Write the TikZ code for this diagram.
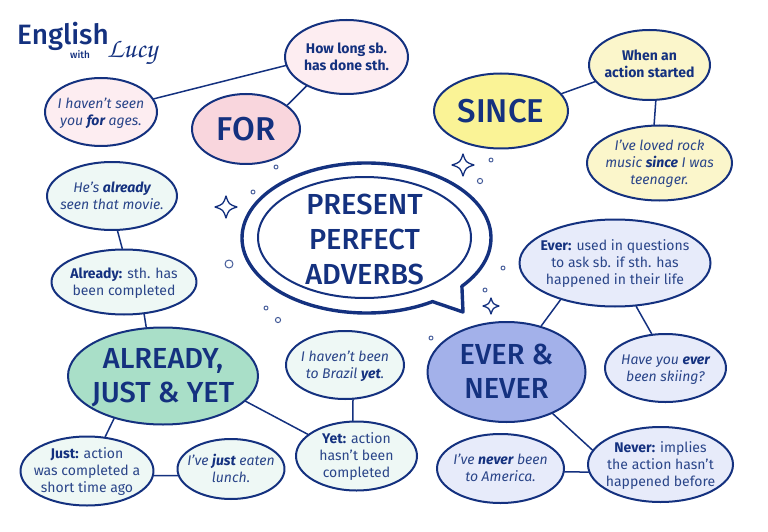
\documentclass[tikz,border=0pt]{standalone}
\usepackage{fontspec}
\setmainfont{Fira Sans}
\newfontfamily\medfont{Fira Sans Medium}
\usetikzlibrary{shapes.geometric}
\definecolor{navy}{HTML}{14317F}
\definecolor{bodyblue}{HTML}{2A4589}
\definecolor{pinkpale}{HTML}{FDEDF1}
\definecolor{pinkmain}{HTML}{F9D6DD}
\definecolor{yellowpale}{HTML}{FBF6CB}
\definecolor{yellowmain}{HTML}{FAF396}
\definecolor{greenpale}{HTML}{EEF8F5}
\definecolor{greenmain}{HTML}{A9DFC8}
\definecolor{bluepale}{HTML}{E7EBFA}
\definecolor{bluemain}{HTML}{A3B1EA}
\newcommand{\ovaltext}[1]{\makebox[0pt]{\raisebox{-.37em}[0pt][0pt]{\begin{tabular}[c]{@{}c@{}}#1\end{tabular}}}}
\newcommand{\headtext}[1]{\makebox[0pt]{\raisebox{-.3em}[0pt][0pt]{\begin{tabular}[c]{@{}c@{}}#1\end{tabular}}}}
\newcommand{\kw}[1]{\textbf{\textcolor{navy}{#1}}}
\newcommand{\sparkle}[3]{\draw[navy,line width=1.3pt] (#1-#3,#2) .. controls (#1-#3/4,#2-#3/4) .. (#1,#2-#3) .. controls (#1+#3/4,#2-#3/4) .. (#1+#3,#2) .. controls (#1+#3/4,#2+#3/4) .. (#1,#2+#3) .. controls (#1-#3/4,#2+#3/4) .. cycle;}
\tikzset{
  oval/.style={ellipse,draw=navy,line width=2pt,inner sep=0pt,text=bodyblue,font=\fontsize{14}{17}\selectfont},
  headoval/.style={oval,text=navy,font=\fontsize{29}{34.5}\medfont},
  link/.style={draw=navy,line width=1.5pt}
}
\begin{document}
\begin{tikzpicture}[x=1pt,y=-1pt,line join=round,line cap=round]
\useasboundingbox (0,0) rectangle (768,532);
\node[oval,fill=pinkpale,minimum width=123pt,minimum height=74pt] (forrule) at (346.5,57) {\ovaltext{\kw{How long sb.}\\\kw{has done sth.}}};
\node[oval,fill=pinkpale,minimum width=112pt,minimum height=68pt] (forcase) at (101,112) {\ovaltext{\textit{I haven't seen}\\\textit{you \kw{for} ages.}}};
\node[headoval,fill=pinkmain,minimum width=108pt,minimum height=70pt,font=\fontsize{33}{38}\medfont] (for) at (246,129) {\headtext{FOR}};
\node[headoval,fill=yellowmain,minimum width=134pt,minimum height=75pt,font=\fontsize{33}{38}\medfont] (since) at (501,111) {\headtext{SINCE}};
\node[oval,fill=yellowpale,minimum width=121pt,minimum height=70pt] (sincerule) at (649.5,65) {\headtext{\kw{When an}\\\kw{action started}}};
\node[oval,fill=yellowpale,minimum width=145pt,minimum height=75pt] (sincecase) at (659.5,163) {\ovaltext{\textit{I've loved rock}\\\textit{music \kw{since} I was}\\\textit{teenager.}}};
\node[oval,fill=greenpale,minimum width=130pt,minimum height=68pt] (alreadycase) at (112,196) {\ovaltext{\textit{He's \kw{already}}\\\textit{seen that movie.}}};
\node[oval,fill=greenpale,minimum width=145pt,minimum height=65pt] (alreadyrule) at (124,282) {\ovaltext{\kw{Already:} sth. has\\been completed}};
\node[headoval,fill=greenmain,minimum width=190pt,minimum height=97pt] (already) at (163,376) {\headtext{ALREADY,\\JUST \& YET}};
\node[oval,fill=greenpale,minimum width=118pt,minimum height=68pt] (yetcase) at (345,365) {\ovaltext{\textit{I haven't been}\\\textit{to Brazil \kw{yet}.}}};
\node[oval,fill=greenpale,minimum width=121pt,minimum height=69pt] (yetrule) at (356.5,456) {\ovaltext{\kw{Yet:} action\\hasn't been\\completed}};
\node[oval,fill=greenpale,minimum width=133pt,minimum height=69pt] (justrule) at (87,471) {\ovaltext{\kw{Just:} action\\was completed a\\short time ago}};
\node[oval,fill=greenpale,minimum width=107pt,minimum height=60pt] (justcase) at (231,469) {\ovaltext{\textit{I've \kw{just} eaten}\\\textit{lunch.}}};
\node[oval,fill=bluepale,minimum width=191pt,minimum height=87pt] (everrule) at (615,263) {\ovaltext{\kw{Ever:} used in questions\\to ask sb. if sth. has\\happened in their life}};
\node[oval,fill=bluepale,minimum width=121pt,minimum height=68pt] (evercase) at (665.5,368) {\ovaltext{\textit{Have you \kw{ever}}\\\textit{been skiing?}}};
\node[headoval,fill=bluemain,minimum width=158pt,minimum height=100pt] (ever) at (506.5,372) {\headtext{EVER \&\\NEVER}};
\node[oval,fill=bluepale,minimum width=145pt,minimum height=75pt] (neverrule) at (660.5,464.5) {\ovaltext{\kw{Never:} implies\\the action hasn't\\happened before}};
\node[oval,fill=bluepale,minimum width=127pt,minimum height=69pt] (nevercase) at (500.5,468.5) {\ovaltext{\textit{I've \kw{never} been}\\\textit{to America.}}};
\draw[link] (for.30) -- (forrule.216);
\draw[link] (forrule.188) -- (forcase.14);
\draw[link] (since.16) -- (sincerule.197);
\draw[link] (sincerule.-80) -- (sincecase.98);
\draw[link] (alreadycase.-81) -- (alreadyrule.93);
\draw[link] (alreadyrule.-58) -- (already.109);
\draw[link] (already.221) -- (justrule.62);
\draw[link] (justrule.-4) -- (justcase.187);
\draw[link] (already.-17) -- (yetrule.156);
\draw[link] (yetrule.96) -- (yetcase.-77);
\draw[link] (ever.53) -- (everrule.214);
\draw[link] (everrule.-64) -- (evercase.112);
\draw[link] (ever.-42) -- (neverrule.168);
\draw[link] (neverrule.186) -- (nevercase.-3);
\draw[navy,line width=3.4pt] (432.5,301.6) arc[start angle=58,end angle=400,x radius=124.5,y radius=75] -- (463,312) -- cycle;
\node[ellipse,draw=navy,line width=2pt,inner sep=0pt,minimum width=213pt,minimum height=121pt,text=navy,font=\fontsize{29}{35}\medfont] (title) at (364.5,237.5) {\ovaltext{PRESENT\\PERFECT\\ADVERBS}};
\sparkle{226}{207}{11}
\sparkle{463}{165}{11}
\sparkle{491}{306}{8}
\foreach \px/\py/\pr in {276/167/2,253/192/2,229/264/4,266/308/2,278/320/2.6,491/160/2,480/181/2.6,503/268/2,485/290/2,431/338/2}
  \draw[navy!80,line width=1pt] (\px,\py) circle[radius=\pr];
\node[navy,font=\fontsize{28}{28}\medfont,anchor=base west,inner sep=0pt] (logomain) at (17,45) {English};
\node[navy,font=\fontsize{10}{10}\medfont,anchor=base west,inner sep=0pt] (logowith) at (70,59) {with};
\node[navy,font=\fontsize{28}{28}\usefont{T1}{pzc}{m}{it},anchor=base west,inner sep=0pt] (logoname) at (107,58) {Lucy};
\end{tikzpicture}
\end{document}
